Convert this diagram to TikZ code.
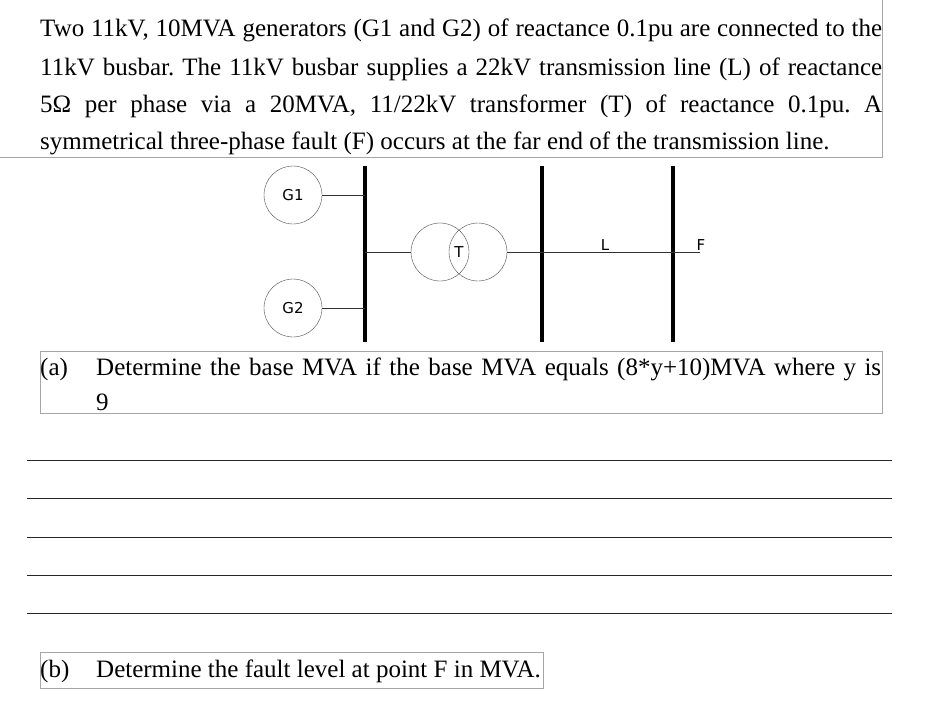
\documentclass[tikz,border=0pt]{standalone}
\usepackage{fontspec}
\setmainfont{Liberation Serif}
\newfontfamily\uifont{DejaVu Sans}
\frenchspacing
\begin{document}
\begin{tikzpicture}[x=1pt,y=-1pt,
  txt/.style={anchor=base west,inner sep=0pt,font=\fontsize{25}{29}\selectfont\frenchspacing},
  gen/.style={draw=black!70,circle,minimum size=58pt,inner sep=0pt,font=\uifont\fontsize{15}{17}\selectfont},
  tcirc/.style={draw=black!70,circle,minimum size=58pt,inner sep=0pt},
  bus/.style={line width=4pt},
  wire/.style={draw=black!80,line width=0.8pt},
  lbl/.style={font=\uifont\fontsize{15}{17}\selectfont,inner sep=0pt},
  frame/.style={draw=black!35,line width=0.8pt},
  rule/.style={draw=black!85,line width=0.7pt}]
\useasboundingbox (0,0) rectangle (950,701);
\fill[white] (0,0) rectangle (950,701);
% paragraph frame
\draw[frame] (0,157) -- (882,157) -- (882,0);
\node[txt] (p1) at (40,37) {\hbox to 842pt{Two 11kV, 10MVA generators (G1 and G2) of reactance 0.1pu are connected to the}};
\node[txt] (p2) at (40,75) {\hbox to 842pt{11kV busbar. The 11kV busbar supplies a 22kV transmission line (L) of reactance}};
\node[txt] (p3) at (40,112) {\hbox to 842pt{5Ω per phase via a 20MVA, 11/22kV transformer (T) of reactance 0.1pu. A}};
\node[txt] (p4) at (40,149) {symmetrical three-phase fault (F) occurs at the far end of the transmission line.};
% diagram
\node[gen] (g1) at (293,195) {G1};
\node[gen] (g2) at (293,308) {G2};
\coordinate (b1t) at (365,166); \coordinate (b1b) at (365,342);
\coordinate (b2t) at (542,166); \coordinate (b2b) at (542,342);
\coordinate (b3t) at (673,166); \coordinate (b3b) at (673,342);
\draw[bus] (b1t) -- (b1b);
\draw[bus] (b2t) -- (b2b);
\draw[bus] (b3t) -- (b3b);
\node[tcirc] (t1) at (440,252) {};
\node[tcirc] (t2) at (478,252) {};
\node[lbl] (tl) at (459,252) {T};
\coordinate (j1) at (365,195); \coordinate (j2) at (365,308);
\coordinate (j3) at (365,252); \coordinate (j4) at (542,252);
\coordinate (j5) at (673,252); \coordinate (fend) at (700,252);
\draw[wire] (g1) -- (j1);
\draw[wire] (g2) -- (j2);
\draw[wire] (j3) -- (t1.west);
\draw[wire] (t2.east) -- (j4);
\draw[wire] (j4) -- (j5);
\draw[wire] (j5) -- (fend);
\node[lbl,anchor=base] (ll) at (605,250) {L};
\node[lbl,anchor=base] (fl) at (701,250) {F};
% (a)
\draw[frame] (40,351) rectangle (882,413);
\node[txt] (a1) at (40,375) {(a)};
\node[txt] (a2) at (96,375) {\hbox to 785pt{Determine the base MVA if the base MVA equals (8*y+10)MVA where y is}};
\node[txt] (a3) at (96,410) {9};
% rules
\foreach \y in {460,498,537,575,613} \draw[rule] (27,\y) -- (892,\y);
% (b)
\draw[frame] (40,652) rectangle (543,688);
\node[txt] (b1) at (40,677) {(b)};
\node[txt] (b2) at (96,677) {Determine the fault level at point F in MVA.};
\end{tikzpicture}
\end{document}
